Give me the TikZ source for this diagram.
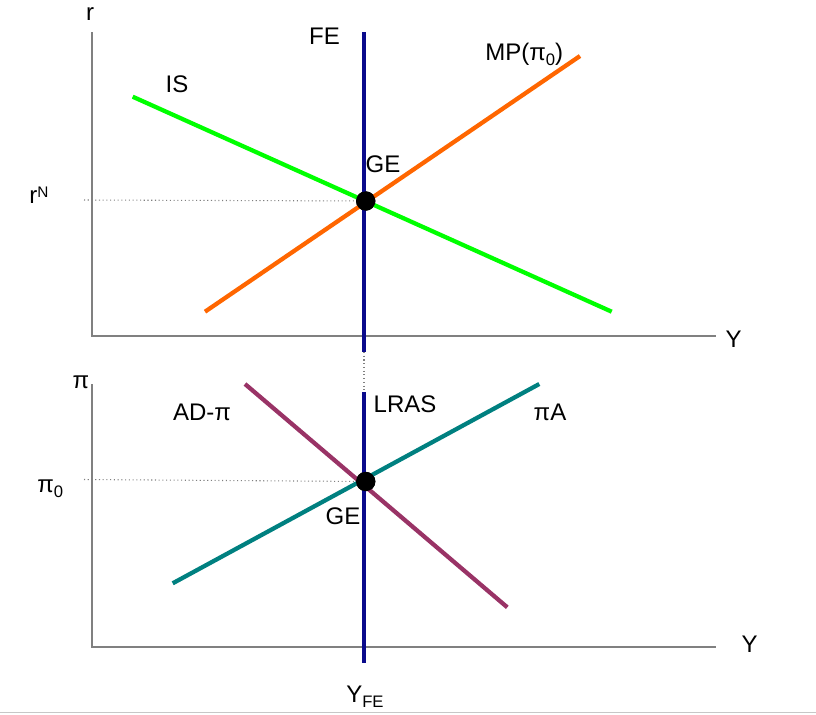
\documentclass[tikz,border=0pt]{standalone}
\usepackage{fontspec}
\setmainfont{Liberation Sans}
\newcommand{\lsub}[1]{\raisebox{-4.3pt}{\fontsize{12.5}{14}\selectfont #1}}
\newcommand{\lsup}[1]{\raisebox{4pt}{\fontsize{11.5}{13}\selectfont #1}}
\definecolor{fenavy}{HTML}{0A0A8C}
\definecolor{isgreen}{HTML}{00FF00}
\definecolor{mporange}{HTML}{FF6600}
\definecolor{adpurple}{HTML}{993366}
\definecolor{pateal}{HTML}{008080}
\definecolor{axisgray}{HTML}{808080}
\begin{document}
\begin{tikzpicture}[x=0.75pt,y=-0.75pt,
  axis/.style={draw=axisgray,line width=1.3pt},
  curve/.style={line width=3.2pt},
  guide/.style={draw=axisgray,line width=0.8pt,dotted},
  lbl/.style={inner sep=0pt,anchor=base,font=\fontsize{18}{21}\selectfont},
  lblw/.style={lbl,anchor=base west},
  gedot/.style={circle,fill=black,minimum size=14.5pt,inner sep=0pt}]
\useasboundingbox (0,0) rectangle (816,714);
% bottom border line
\coordinate (bl) at (0,712.5);
\coordinate (br) at (816,712.5);
\draw[draw=black!22,line width=1.2pt] (bl) -- (br);
% ---------- top panel ----------
\coordinate (ta0) at (91.7,32.3);
\coordinate (tO) at (91.7,335.7);
\coordinate (tax) at (716,335.7);
\draw[axis] (ta0) -- (tO) -- (tax);
\coordinate (fe0) at (364,32);
\coordinate (fe1) at (364,352);
\coordinate (is0) at (132.7,96.7);
\coordinate (is1) at (611.7,311.7);
\coordinate (mp0) at (205,311.7);
\coordinate (mp1) at (580,56);
\coordinate (rl) at (84,200);
\node[gedot] (ge1) at (365.7,201) {};
\draw[guide] (rl) -- (ge1.center);
\draw[curve,isgreen] (is0) -- (is1);
\draw[curve,mporange] (mp0) -- (mp1);
\draw[curve,fenavy] (fe0) -- (fe1);
\node[gedot] at (ge1.center) {};
% connector between panels
\coordinate (lr0) at (364,392.3);
\coordinate (lr1) at (364,663.3);
\draw[guide] (fe1) -- (lr0);
% top labels
\node[lbl] (r) at (90,20) {r};
\node[lbl] (FE) at (324.5,44) {FE};
\node[lbl] (IS) at (177,92) {IS};
\node[lbl] (GEt) at (383,172) {GE};
\node[lblw] (rN) at (29,203) {r\lsup{N}};
\node[lblw] (MP) at (485,60) {MP(π\lsub{0})};
\node[lbl] (Yt) at (733.5,347) {Y};
% ---------- bottom panel ----------
\coordinate (ba0) at (91.7,384.3);
\coordinate (bO) at (91.7,647.3);
\coordinate (bax) at (716,647.3);
\draw[axis] (ba0) -- (bO) -- (bax);
\coordinate (ad0) at (245,384);
\coordinate (ad1) at (507.3,607.3);
\coordinate (pa0) at (172.7,583.3);
\coordinate (pa1) at (539.3,384);
\coordinate (pl) at (84,479.5);
\node[gedot] (ge2) at (365.7,481.5) {};
\draw[guide] (pl) -- (ge2.center);
\draw[curve,adpurple] (ad0) -- (ad1);
\draw[curve,pateal] (pa0) -- (pa1);
\draw[curve,fenavy] (lr0) -- (lr1);
\node[gedot] at (ge2.center) {};
% bottom labels
\node[lbl] (pi) at (81,388) {π};
\node[lbl] (AD) at (202,420) {AD-π};
\node[lbl] (LRAS) at (405,412) {LRAS};
\node[lblw] (pi0) at (37,492) {π\lsub{0}};
\node[lbl] (GEb) at (343,524) {GE};
\node[lblw] (YFE) at (346,702) {Y\lsub{FE}};
\node[lbl] (piA) at (550,420) {πA};
\node[lbl] (Yb) at (749.5,652) {Y};
\end{tikzpicture}
\end{document}
